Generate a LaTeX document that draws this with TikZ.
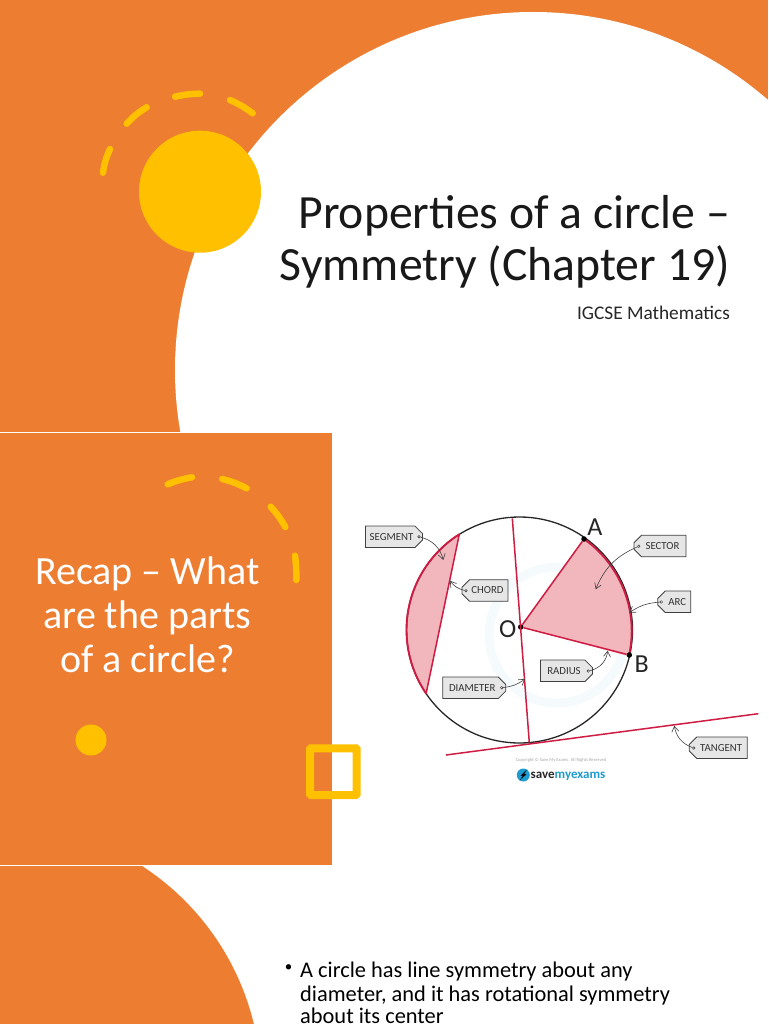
\documentclass[tikz,border=0pt]{standalone}
\usepackage{fontspec}
\setmainfont{Carlito}
\usetikzlibrary{positioning, arrows.meta, shapes.misc}
\definecolor{slideorange}{HTML}{ED7D31}
\definecolor{slidegold}{HTML}{FFC000}
\definecolor{partred}{HTML}{CE1C43}
\definecolor{partfill}{HTML}{F1B7BD}
\definecolor{tagfill}{HTML}{E6E6E6}
\definecolor{logoblue}{HTML}{1E9BD0}
\definecolor{logofaint}{HTML}{F5FAFC}

\tikzset{
  goldarc/.style={draw=slidegold, line width=6.5pt, line cap=round},
  partline/.style={draw=partred, line width=1.5pt},
  parttag/.style={chamfered rectangle, draw=black!75, fill=tagfill, line width=0.8pt,
    chamfered rectangle xsep=4pt, chamfered rectangle ysep=4pt, inner sep=0pt,
    minimum height=21.5pt, font=\fontsize{10.8}{12}\selectfont, text=black!80},
  tagright/.style={parttag, chamfered rectangle corners={north east, south east}},
  tagleft/.style={parttag, chamfered rectangle corners={north west, south west}},
  taghole/.style={circle, draw=black!80, fill=white, line width=0.5pt, inner sep=0pt, minimum size=2.6pt},
  tagarrow/.style={-{Straight Barb[length=5.5pt, width=7pt]}, draw=black!75, line width=0.6pt},
  pointdot/.style={circle, fill=black, inner sep=0pt, minimum size=5.5pt},
  pointname/.style={font=\fontsize{26}{27}\selectfont, text=black!85},
  titletext/.style={anchor=base east, inner sep=0pt, font=\fontsize{47.7}{50}\selectfont, text=black!90},
  recaptext/.style={anchor=base, inner sep=0pt, font=\fontsize{40}{44}\selectfont, text=white},
  bodytext/.style={anchor=base west, inner sep=0pt, font=\fontsize{22.4}{24}\selectfont, text=black}
}

\begin{document}
\begin{tikzpicture}[x=1pt, y=-1pt]
  \useasboundingbox (0,0) rectangle (768,1024);

  % first slide
  \begin{scope}
    \clip (0,0) rectangle (768,432);
    \fill[slideorange] (0,0) rectangle (768,432);
    \fill[white] (533,370) circle[radius=358];
  \end{scope}
  \fill[slidegold] (200,191.7) circle[radius=61];
  \draw[goldarc] (103,172.7) to[bend left=8] (110,149);
  \draw[goldarc] (126.7,123.7) to[bend left=8] (146.7,107.3);
  \draw[goldarc] (175,96.7) to[bend left=6] (200,93.7);
  \draw[goldarc] (230,100) to[bend left=6] (252.7,113.3);
  \node[titletext] (title1) at (730,229) {Properties of a circle –};
  \node[titletext] (title2) at (730,280.3) {Symmetry (Chapter 19)};
  \node[anchor=base east, inner sep=0pt, font=\fontsize{19.3}{20}\selectfont, text=black!85] (subtitle) at (730,319.5) {IGCSE Mathematics};

  % second slide
  \fill[slideorange] (0,433) rectangle (332,865);
  \draw[goldarc] (167.7,484.3) to[bend left=6] (192,477.3);
  \draw[goldarc] (222.3,479) to[bend left=6] (246.7,488.3);
  \draw[goldarc] (270.7,506.7) to[bend left=6] (285.3,527);
  \draw[goldarc] (295,555.7) to[bend left=4] (296.3,580);
  \fill[slidegold] (91,740) circle[radius=15.5];
  \draw[slidegold, line width=8pt, rounded corners=1pt] (310,748.3) rectangle (356.7,795);
  \node[recaptext] (recap1) at (147.5,584.3) {Recap – What};
  \node[recaptext] (recap2) at (147.5,628.5) {are the parts};
  \node[recaptext] (recap3) at (147.5,672) {of a circle?};

  % circle parts
  \draw[logofaint, line width=9pt] (557,635) circle[radius=68];
  \fill[partfill] (459.3,534.3) arc[start angle=237.8, end angle=145.6, radius=113] -- cycle;
  \fill[partfill] (520.7,627) -- (584,539) arc[start angle=-54.7, end angle=12.8, radius=113] -- cycle;
  \draw[black!85, line width=1.3pt] (519.5,630) circle[radius=113];
  \draw[partline, line width=1.9pt] (584,539) arc[start angle=-54.7, end angle=12.8, radius=113];
  \draw[partline, line width=1.9pt] (459.3,534.3) arc[start angle=237.8, end angle=145.6, radius=113];

  \node[pointdot] (O) at (520.7,627) {};
  \node[pointdot] (A) at (584,539) {};
  \node[pointdot] (B) at (629.3,655) {};
  \coordinate (segtop) at (459.3,534.3);
  \coordinate (segbot) at (426,694);
  \coordinate (diatop) at (512.3,518.3);
  \coordinate (diabot) at (529.3,742.7);
  \coordinate (tanleft) at (446,755);
  \coordinate (tanright) at (758.3,713.7);
  \path[partline]
    (O) edge (A)
    (O) edge (B)
    (segtop) edge (segbot)
    (diatop) edge (diabot)
    (tanleft) edge (tanright);

  \node[pointname] (Oname) at (507.7,629.3) {O};
  \node[pointname] (Aname) at (595,527.3) {A};
  \node[pointname] (Bname) at (641.7,664) {B};

  \node[tagright, minimum width=57pt] (segment) at (394,536.8) {\hspace*{-5pt}SEGMENT};
  \node[tagleft, minimum width=46pt] (chord) at (485,590.5) {\hspace*{5pt}CHORD};
  \node[tagleft, minimum width=52pt] (sector) at (660,546) {\hspace*{5pt}SECTOR};
  \node[tagleft, minimum width=33pt] (arc) at (674.2,601.8) {\hspace*{6pt}ARC};
  \node[tagright, minimum width=52pt] (radius) at (566.5,670.8) {\hspace*{-5pt}RADIUS};
  \node[tagright, minimum width=63pt] (diameter) at (474.3,687.8) {\hspace*{-4pt}DIAMETER};
  \node[tagleft, minimum width=58pt] (tangent) at (718.2,747.8) {\hspace*{6pt}TANGENT};

  \node[taghole] (segmenthole) at (419,536.7) {};
  \node[taghole] (chordhole) at (466,590.7) {};
  \node[taghole] (sectorhole) at (638.7,546.3) {};
  \node[taghole] (archole) at (661.3,602) {};
  \node[taghole] (radiushole) at (588.3,671) {};
  \node[taghole] (diameterhole) at (501.7,687.7) {};
  \node[taghole] (tangenthole) at (693.7,748) {};

  \coordinate (segmentend) at (443.3,560);
  \coordinate (chordend) at (450,580.7);
  \coordinate (sectorend) at (595.7,589.3);
  \coordinate (arcend) at (629.3,612.7);
  \coordinate (radiusend) at (607.7,650.7);
  \coordinate (diameterend) at (525,679);
  \coordinate (tangentend) at (674.3,725.7);

  \path[tagarrow]
    (segmenthole) edge[bend left=30] (segmentend)
    (chordhole) edge[bend left=20] (chordend)
    (sectorhole) edge[bend right=22] (sectorend)
    (archole) edge[bend right=15] (arcend)
    (radiushole) edge[bend right=35] (radiusend)
    (diameterhole) edge[bend right=15] (diameterend)
    (tangenthole) edge[bend left=30] (tangentend);

  % logo under the circle
  \node[font=\fontsize{4.6}{5}\selectfont, inner sep=0pt, text=black!35] (copyright) at (561,760.5) {Copyright © Save My Exams. All Rights Reserved};
  \node[circle, fill=logoblue, inner sep=0pt, minimum size=13pt] (logoicon) at (523.3,775) {};
  \fill[black] (527,769.5) -- (520.5,775.8) -- (523,775.8) -- (519.5,780.5) -- (526.5,774.2) -- (524,774.2) -- cycle;
  \node[anchor=west, inner sep=0pt, font=\bfseries\fontsize{13}{16}\selectfont, text=black!85] (logotext) at (530.5,776) {save\textcolor{logoblue}{myexams}};

  % third slide
  \begin{scope}
    \clip (0,866) rectangle (768,1024);
    \fill[slideorange] (0,1085) circle[radius=261];
  \end{scope}
  \node[font=\fontsize{15}{16}\selectfont, inner sep=0pt] (bullet) at (288.5,968.5) {•};
  \node[bodytext] (body1) at (300,977) {A circle has line symmetry about any};
  \node[bodytext] (body2) at (300,1001) {diameter, and it has rotational symmetry};
  \node[bodytext] (body3) at (300,1023.5) {about its center};
\end{tikzpicture}
\end{document}
